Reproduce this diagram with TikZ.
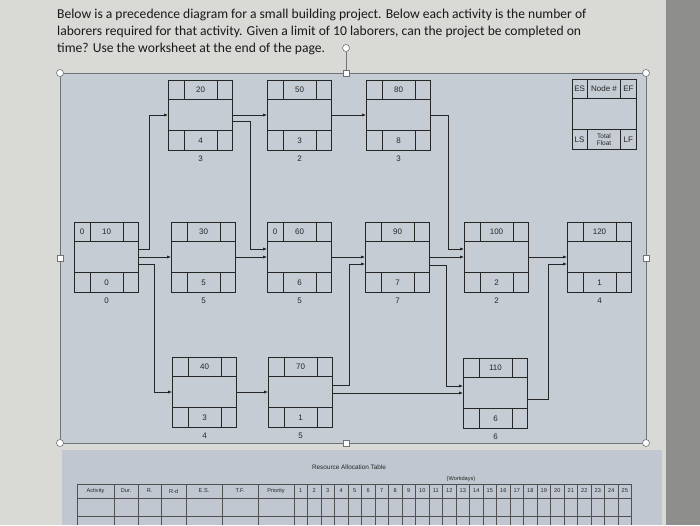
\documentclass[tikz,border=0pt]{standalone}
\usepackage{fontspec}
\setmainfont{Carlito}
\newfontfamily\arialf{Liberation Sans}
\usetikzlibrary{arrows.meta,calc}
\definecolor{pagebg}{HTML}{D9DAD5}
\definecolor{framebg}{HTML}{C6CCD4}
\definecolor{tablebg}{HTML}{C0C7D0}
\definecolor{edgebg}{HTML}{8E8F8D}
\definecolor{handle}{HTML}{6E7478}
\definecolor{ink}{HTML}{262626}
\tikzset{
  abox/.style={draw=ink, line width=0.75pt, minimum width=64pt, minimum height=70pt, inner sep=0pt},
  cell/.style={draw=ink, line width=0.75pt},
  ntext/.style={font=\arialf\fontsize{8}{8.5}\selectfont, text=ink, inner sep=0pt},
  conn/.style={draw=ink, line width=0.7pt},
  arr/.style={conn, -{Latex[length=4pt,width=3pt]}},
  hcirc/.style={draw=handle, fill=white, line width=0.6pt, circle, minimum size=7pt, inner sep=0pt},
  hsq/.style={draw=handle, fill=white, line width=0.6pt, rectangle, minimum size=6pt, inner sep=0pt},
  ttext/.style={font=\arialf\fontsize{5.6}{6}\selectfont, text=ink, inner sep=0pt},
  tline/.style={draw=ink!80, line width=0.5pt},
  qtext/.style={anchor=base west, inner sep=0pt, font=\fontsize{13.6}{16}\selectfont, text=black!90}
}
% #1 name, #2 cx, #3 cy, #4 top-left value, #5 node number, #6 resource, #7 below
\newcommand{\actbox}[7]{%
  \node[abox] (#1) at (#2,#3) {};
  \draw[cell] ($(#1.north west)+(0,20)$) -- ($(#1.north east)+(0,20)$);
  \draw[cell] ($(#1.south west)+(0,-20)$) -- ($(#1.south east)+(0,-20)$);
  \draw[cell] ($(#1.north west)+(16,0)$) -- ++(0,20);
  \draw[cell] ($(#1.north east)+(-16,0)$) -- ++(0,20);
  \draw[cell] ($(#1.south west)+(16,0)$) -- ++(0,-20);
  \draw[cell] ($(#1.south east)+(-16,0)$) -- ++(0,-20);
  \node[ntext] (#1tl) at ($(#1.north west)+(8,10)$) {#4};
  \node[ntext] (#1id) at ($(#1.north)+(0,10)$) {#5};
  \node[ntext] (#1r) at ($(#1.south)+(0,-10)$) {#6};
  \node[ntext] (#1b) at ($(#1.south)+(0,8)$) {#7};
}
\begin{document}
\begin{tikzpicture}[x=1pt,y=-1pt]
\useasboundingbox (0,0) rectangle (700,525);
% backgrounds
\fill[pagebg] (0,0) rectangle (700,525);
\fill[edgebg] (666,0) rectangle (700,525);
\fill[tablebg] (62,450) rectangle (662,525);
\fill[framebg] (60,73) rectangle (646,443);
% question text
\node[qtext] (q1) at (57,18) {Below is a precedence diagram for a small building project. Below each activity is the number of};
\node[qtext] (q2) at (57,35) {laborers required for that activity. Given a limit of 10 laborers, can the project be completed on};
\node[qtext] (q3) at (57,52) {time? Use the worksheet at the end of the page.};
% selection frame
\draw[handle, line width=0.8pt] (60,73) rectangle (646,443);
\coordinate (rotbase) at (346,73);
\node[hcirc] (rot) at (346,48) {};
\draw[handle, line width=0.8pt] (rot) -- (rotbase);
\node[hcirc] (hc1) at (60,73) {};
\node[hcirc] (hc2) at (646,73) {};
\node[hcirc] (hc3) at (60,443) {};
\node[hcirc] (hc4) at (646,443) {};
\node[hsq] (hs1) at (346,73) {};
\node[hsq] (hs2) at (346,443) {};
\node[hsq] (hs3) at (60,258) {};
\node[hsq] (hs4) at (646,258) {};
% activity nodes
\actbox{n20}{200.5}{115}{}{20}{4}{3}
\actbox{n50}{299.5}{115}{}{50}{3}{2}
\actbox{n80}{398.5}{115}{}{80}{8}{3}
\actbox{n10}{106.5}{257}{0}{10}{0}{0}
\actbox{n30}{203.5}{257}{}{30}{5}{5}
\actbox{n60}{299.5}{257}{0}{60}{6}{5}
\actbox{n90}{397.5}{257}{}{90}{7}{7}
\actbox{n100}{496.5}{257}{}{100}{2}{2}
\actbox{n120}{599.5}{257}{}{120}{1}{4}
\actbox{n40}{204.5}{392}{}{40}{3}{4}
\actbox{n70}{300.5}{392}{}{70}{1}{5}
\actbox{n110}{495.5}{393}{}{110}{6}{6}
% legend
\node[abox] (leg) at (604,114) {};
\draw[cell] ($(leg.north west)+(0,20)$) -- ($(leg.north east)+(0,20)$);
\draw[cell] ($(leg.south west)+(0,-20)$) -- ($(leg.south east)+(0,-20)$);
\draw[cell] ($(leg.north west)+(16,0)$) -- ++(0,20);
\draw[cell] ($(leg.north east)+(-16,0)$) -- ++(0,20);
\draw[cell] ($(leg.south west)+(16,0)$) -- ++(0,-20);
\draw[cell] ($(leg.south east)+(-16,0)$) -- ++(0,-20);
\node[ntext] (leges) at ($(leg.north west)+(8,10)$) {ES};
\node[ntext] (legid) at ($(leg.north)+(0,10)$) {Node \#};
\node[ntext] (legef) at ($(leg.north east)+(-8,10)$) {EF};
\node[ntext] (legls) at ($(leg.south west)+(8,-10)$) {LS};
\node[ntext, align=center, font=\arialf\fontsize{6.5}{6.8}\selectfont] (legtf) at ($(leg.south)+(0,-10)$) {Total\\Float};
\node[ntext] (leglf) at ($(leg.south east)+(-8,-10)$) {LF};
% connectors
\draw[arr] ([yshift=8pt]n10.east) -| ($(n20.west)+(-19,0)$) -- (n20.west);
\draw[arr] (n10) -- (n30);
\draw[arr] ([yshift=-7pt]n10.east) -| ($(n40.west)+(-18,0)$) -- (n40.west);
\draw[arr] (n20) -- (n50);
\draw[arr] ([yshift=-6pt]n20.east) -| ($([yshift=8pt]n60.west)+(-17,0)$) -- ([yshift=8pt]n60.west);
\draw[arr] (n30) -- (n60);
\draw[arr] (n40) -- (n70);
\draw[arr] (n50) -- (n80);
\draw[arr] (n60) -- (n90);
\draw[arr] ([yshift=7pt]n70.east) -| ($([yshift=-7pt]n90.west)+(-16,0)$) -- ([yshift=-7pt]n90.west);
\draw[arr] ([yshift=-1pt]n70.east) -- ([yshift=-1pt]n70.east -| n110.west);
\draw[arr] (n80.east) -| ($([yshift=8pt]n100.west)+(-16,0)$) -- ([yshift=8pt]n100.west);
\draw[arr] (n90) -- (n100);
\draw[arr] ([yshift=-8pt]n90.east) -| ($([yshift=7pt]n110.west)+(-17,0)$) -- ([yshift=7pt]n110.west);
\draw[arr] (n100) -- (n120);
\draw[arr] ([yshift=-6pt]n110.east) -| ($([yshift=-7pt]n120.west)+(-19,0)$) -- ([yshift=-7pt]n120.west);
% resource allocation table
\node[ttext, font=\arialf\fontsize{6.4}{7}\selectfont] (ttitle) at (349,467) {Resource Allocation Table};
\node[ttext] (twork) at (461,479) {(Workdays)};
\draw[tline] (77,484) -- (631.5,484);
\draw[tline] (77,498) -- (631.5,498);
\draw[tline] (77,516) -- (631.5,516);
\foreach \xx in {77,114,138,161.5,186,222,258,294} { \draw[tline] (\xx,484) -- (\xx,525); }
\foreach \i in {1,...,25} { \draw[tline] ({294+13.5*\i},484) -- ({294+13.5*\i},525); }
\node[ttext] (hact) at (95.5,491) {Activity};
\node[ttext] (hdur) at (126,491) {Dur.};
\node[ttext] (hr) at (149.75,491) {R.};
\node[ttext] (hrd) at (173.75,491) {R-d};
\node[ttext] (hes) at (204,491) {E.S.};
\node[ttext] (htf) at (240,491) {T.F.};
\node[ttext] (hpri) at (276,491) {Priority};
\foreach \i in {1,...,25} { \node[ttext] (day\i) at ({294+13.5*\i-6.75},491) {\i}; }
\end{tikzpicture}
\end{document}
